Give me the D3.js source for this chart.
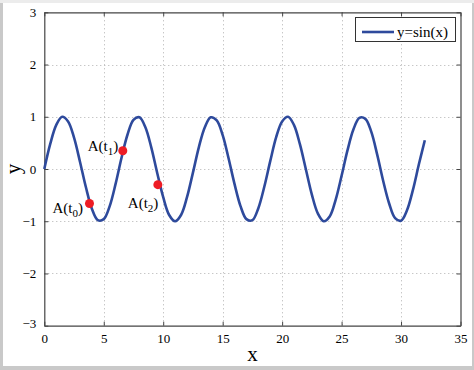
<!DOCTYPE html>
<html><head><meta charset="utf-8">
<script src="https://cdn.jsdelivr.net/npm/d3@7"></script>
<style>
html,body{margin:0;padding:0;background:#fff;}
svg{display:block;}
text{font-family:"Liberation Serif","Times New Roman",serif;fill:#000;}
</style></head>
<body>
<script>
// Data
const xs = [0,0.5,1,1.5,2,2.5,3,3.5,4,4.5,5,5.5,6,6.5,7,7.5,8,8.5,9,9.5,10,10.5,11,11.5,12,12.5,13,13.5,14,14.5,15,15.5,16,16.5,17,17.5,18,18.5,19,19.5,20,20.5,21,21.5,22,22.5,23,23.5,24,24.5,25,25.5,26,26.5,27,27.5,28,28.5,29,29.5,30,30.5,31,31.5,32];
const ys = [0,0.48,0.84,1.00,0.91,0.60,0.14,-0.35,-0.76,-0.98,-0.96,-0.71,-0.28,0.22,0.66,0.94,0.99,0.80,0.41,-0.08,-0.54,-0.88,-1.00,-0.88,-0.54,-0.07,0.42,0.80,0.99,0.93,0.65,0.20,-0.29,-0.71,-0.96,-0.98,-0.75,-0.34,0.15,0.61,0.91,1.00,0.84,0.47,-0.01,-0.49,-0.85,-1.00,-0.91,-0.59,-0.13,0.36,0.76,0.98,0.96,0.71,0.27,-0.23,-0.66,-0.94,-0.99,-0.79,-0.40,0.09,0.55];
const pointNames = ["0","1","2"];
const pointX = [3.8, 6.6, 9.55];
const pointY = [-0.66, 0.35, -0.30];
const xTicks = [0,5,10,15,20,25,30,35];
const yTicks = [-3,-2,-1,0,1,2,3];
const seriesName = "y=sin(x)";

const W = 474, H = 370;
const svg = d3.select("body").append("svg").attr("width", W).attr("height", H);

// frame
svg.append("rect").attr("x",0).attr("y",0).attr("width",W).attr("height",H).attr("fill","#c9c9c9");
svg.append("rect").attr("x",0).attr("y",0).attr("width",W).attr("height",3).attr("fill","#ececec");
svg.append("rect").attr("x",3).attr("y",3).attr("width",469).attr("height",363).attr("fill","#fff");

const L = 44.3, R = 460.5, T = 12.3, B = 325.7;
const x = d3.scaleLinear().domain([0,35]).range([L,R]);
const y = d3.scaleLinear().domain([-3,3]).range([B,T]);

// grid
const grid = svg.append("g").attr("stroke","#b0b0b0").attr("stroke-width",1).attr("stroke-dasharray","1,3");
grid.selectAll(".gx").data(xTicks.filter(d=>d>0&&d<35)).enter().append("line")
  .attr("x1",d=>Math.round(x(d))+0.5).attr("x2",d=>Math.round(x(d))+0.5).attr("y1",T).attr("y2",B);
grid.selectAll(".gy").data(yTicks.filter(d=>d>-3&&d<3)).enter().append("line")
  .attr("y1",d=>Math.round(y(d))+0.5).attr("y2",d=>Math.round(y(d))+0.5).attr("x1",L).attr("x2",R);

// axes
const axB = svg.append("g").attr("transform",`translate(0,${B})`)
  .call(d3.axisBottom(x).tickValues(xTicks).tickSize(-4).tickPadding(8).tickSizeOuter(0));
const axT = svg.append("g").attr("transform",`translate(0,${T})`)
  .call(d3.axisTop(x).tickValues(xTicks).tickSize(-4).tickFormat("").tickSizeOuter(0));
const axL = svg.append("g").attr("transform",`translate(${L},0)`)
  .call(d3.axisLeft(y).tickValues(yTicks).tickSize(-4).tickPadding(8).tickSizeOuter(0)
    .tickFormat(d=> d<0 ? "\u2212"+Math.abs(d) : d));
const axR = svg.append("g").attr("transform",`translate(${R},0)`)
  .call(d3.axisRight(y).tickValues(yTicks).tickSize(-4).tickFormat("").tickSizeOuter(0));
[axB,axT,axL,axR].forEach(a=>{
  a.attr("font-family","'Liberation Serif',serif").attr("font-size",13);
  a.selectAll("path").attr("stroke","#444").attr("stroke-width",1.2);
  a.selectAll("line").attr("stroke","#444");
  a.selectAll("text").attr("font-family","'Liberation Serif',serif").style("font-family","'Liberation Serif',serif").style("font-size","13px").attr("fill","#000");
});
axL.selectAll(".tick text").filter(d=>d===-3).attr("dy","0.1em");

// line
const line = d3.line().x((d,i)=>x(xs[i])).y((d,i)=>y(ys[i])).curve(d3.curveCatmullRom.alpha(0.5));
svg.append("path").datum(ys).attr("d",line).attr("fill","none")
  .attr("stroke","#2e4a9c").attr("stroke-width",2.6).attr("stroke-linejoin","round");

// points
svg.selectAll(".pt").data(pointX).enter().append("circle")
  .attr("cx",d=>x(d)).attr("cy",(d,i)=>y(pointY[i])).attr("r",4.5).attr("fill","#ee1c24");

// point labels
const labOff = [[-37,10],[-35,-0],[-30,23]];
pointX.forEach((px,i)=>{
  const t = svg.append("text").attr("x",x(px)+labOff[i][0]).attr("y",y(pointY[i])+labOff[i][1])
    .attr("text-anchor","start").style("font-size","15px");
  t.append("tspan").text("A(t");
  t.append("tspan").text(pointNames[i]).attr("dy","4").style("font-size","11px");
  t.append("tspan").text(")").attr("dy","-4");
});

// axis titles
svg.append("text").attr("x",x(17.5)).attr("y",361).attr("text-anchor","middle").style("font-size","21px").text("x");
svg.append("text").attr("transform",`translate(20,${y(0)}) rotate(-90)`).attr("text-anchor","middle").style("font-size","21px").text("y");

// legend
svg.append("rect").attr("x",355.5).attr("y",17.5).attr("width",100).attr("height",24)
  .attr("fill","#fff").attr("stroke","#333").attr("stroke-width",1);
svg.append("line").attr("x1",362).attr("x2",394).attr("y1",32).attr("y2",32).attr("stroke","#2e4a9c").attr("stroke-width",2.6);
svg.append("text").attr("x",397).attr("y",36.5).style("font-size","15px").text(seriesName);
</script>
</body></html>
